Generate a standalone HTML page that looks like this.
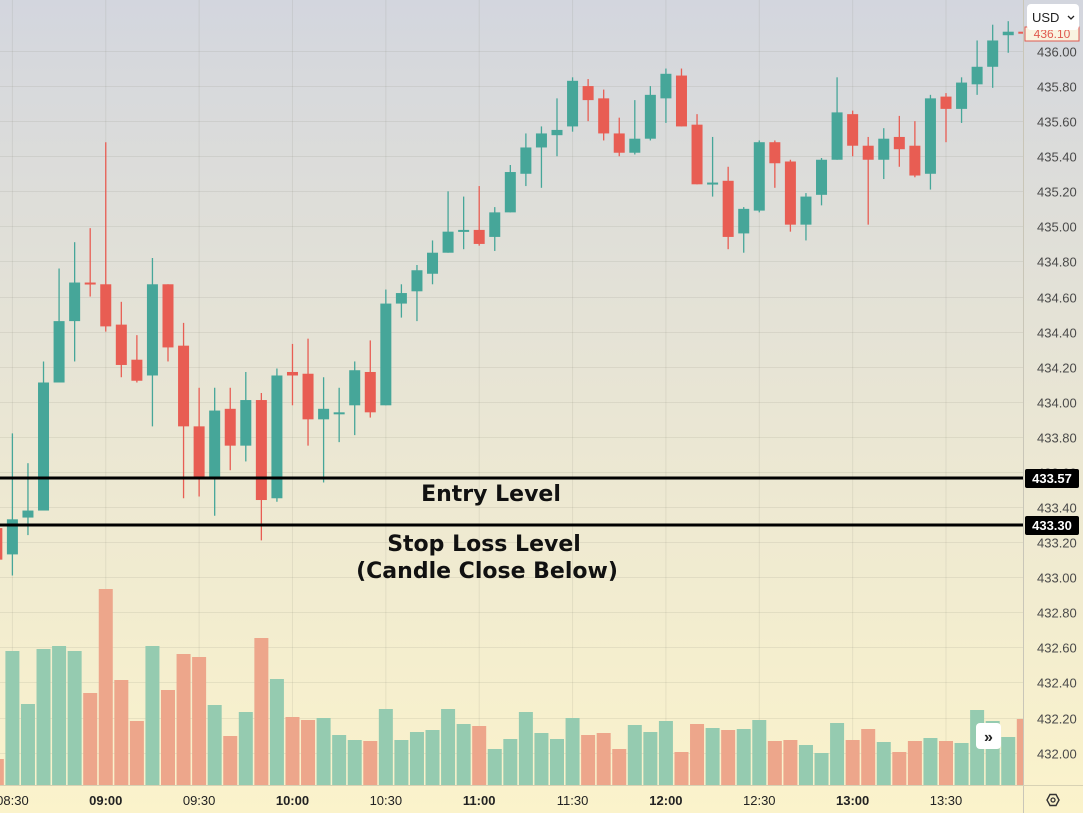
<!DOCTYPE html>
<html><head><meta charset="utf-8"><style>
html,body{margin:0;padding:0;width:1083px;height:813px;overflow:hidden}
svg{display:block}
text{font-family:"Liberation Sans","DejaVu Sans",sans-serif}
</style></head><body>
<svg id="chart" width="1083" height="813" viewBox="0 0 1083 813" xmlns="http://www.w3.org/2000/svg">
<defs>
<linearGradient id="bg" x1="0" y1="0" x2="0" y2="1">
<stop offset="0" stop-color="#d3d6de"/>
<stop offset="0.55" stop-color="#ebe7d3"/>
<stop offset="1" stop-color="#fbf3cb"/>
</linearGradient>
<clipPath id="plotclip"><rect x="0" y="0" width="1023" height="785"/></clipPath>
</defs>
<rect x="0" y="0" width="1083" height="813" fill="url(#bg)"/>
<g id="grid"></g>
<g id="vol" clip-path="url(#plotclip)"></g>
<g id="candles" clip-path="url(#plotclip)"></g>
<line x1="1023.5" y1="0" x2="1023.5" y2="813" stroke="#c9c6b8" stroke-width="1"/>
<line x1="0" y1="785.5" x2="1083" y2="785.5" stroke="#d8d2b4" stroke-width="1"/>
<g id="yaxis"></g>
<g id="xaxis"></g>
<g>
<line x1="0" y1="478" x2="1023" y2="478" stroke="#000" stroke-width="3"/>
<rect x="1025" y="469" width="54" height="19" rx="2" fill="#000"/>
<text x="1052" y="483" font-size="13" font-weight="bold" fill="#fff" text-anchor="middle">433.57</text>
<text x="491" y="501" font-size="22" font-weight="bold" fill="#111" text-anchor="middle" style="font-family:'DejaVu Sans',sans-serif">Entry Level</text>
</g>
<g>
<line x1="0" y1="525" x2="1023" y2="525" stroke="#000" stroke-width="3"/>
<rect x="1025" y="516" width="54" height="19" rx="2" fill="#000"/>
<text x="1052" y="530" font-size="13" font-weight="bold" fill="#fff" text-anchor="middle">433.30</text>
<text x="484" y="551" font-size="22" font-weight="bold" fill="#111" text-anchor="middle" style="font-family:'DejaVu Sans',sans-serif">Stop Loss Level</text>
<text x="487" y="578" font-size="22" font-weight="bold" fill="#111" text-anchor="middle" style="font-family:'DejaVu Sans',sans-serif">(Candle Close Below)</text>
</g>
<rect x="1025" y="27" width="54" height="14" fill="#f9f3e0" stroke="#e05a50" stroke-width="1"/>
<text x="1052" y="38" font-size="12" fill="#e05a50" text-anchor="middle">436.10</text>
<g>
<rect x="1027" y="4" width="52" height="26" rx="4" fill="#fff"/>
<text x="1032" y="22" font-size="13" fill="#222">USD</text>
<path d="M1068 16 l3 3 l3 -3" fill="none" stroke="#222" stroke-width="1.3"/>
</g>
<g>
<rect x="976" y="723" width="25" height="26" rx="4" fill="#fff"/>
<text x="988.5" y="742" font-size="16" font-weight="bold" fill="#222" text-anchor="middle">»</text>
</g>
<g>
<polygon points="1047,800 1050,794.5 1056,794.5 1059,800 1056,805.5 1050,805.5" fill="none" stroke="#333" stroke-width="1.4"/>
<circle cx="1053" cy="800" r="2" fill="none" stroke="#333" stroke-width="1.3"/>
</g>
</svg>
<script>
// price data, 5-minute candles starting 08:25
const opens  = [433.28,433.13,433.34,433.38,434.11,434.46,434.68,434.67,434.44,434.24,434.15,434.67,434.32,433.86,433.56,433.96,433.75,434.01,433.45,434.17,434.16,433.90,433.94,433.98,434.17,433.98,434.56,434.63,434.73,434.85,434.97,434.98,434.94,435.08,435.30,435.45,435.52,435.57,435.80,435.73,435.53,435.42,435.50,435.73,435.86,435.58,435.25,435.26,434.96,435.09,435.48,435.37,435.01,435.18,435.38,435.64,435.46,435.38,435.51,435.46,435.30,435.74,435.67,435.81,435.91,436.09,436.11];
const closes = [433.10,433.33,433.38,434.11,434.46,434.68,434.67,434.43,434.21,434.12,434.67,434.31,433.86,433.56,433.95,433.75,434.01,433.44,434.15,434.15,433.90,433.96,433.94,434.18,433.94,434.56,434.62,434.75,434.85,434.97,434.98,434.90,435.08,435.31,435.45,435.53,435.55,435.83,435.72,435.53,435.42,435.50,435.75,435.87,435.57,435.24,435.25,434.94,435.10,435.48,435.36,435.01,435.17,435.38,435.65,435.46,435.38,435.50,435.44,435.29,435.73,435.67,435.82,435.91,436.06,436.11,436.10];
const highs  = [433.28,433.82,433.65,434.23,434.76,434.91,434.99,435.48,434.57,434.38,434.82,434.67,434.45,434.08,434.08,434.08,434.17,434.05,434.19,434.33,434.36,434.14,434.08,434.23,434.35,434.64,434.67,434.78,434.92,435.20,435.17,435.23,435.11,435.35,435.53,435.57,435.73,435.85,435.84,435.78,435.62,435.72,435.80,435.90,435.90,435.64,435.51,435.34,435.11,435.49,435.49,435.38,435.19,435.39,435.85,435.66,435.51,435.56,435.63,435.60,435.75,435.76,435.85,436.06,436.15,436.17,436.16];
const lows   = [433.07,433.01,433.24,433.38,434.11,434.23,434.60,434.40,434.14,434.11,433.86,434.23,433.45,433.46,433.35,433.61,433.66,433.21,433.43,433.98,433.75,433.54,433.77,433.81,433.91,433.98,434.48,434.46,434.67,434.85,434.87,434.89,434.86,435.08,435.23,435.22,435.40,435.54,435.60,435.49,435.40,435.41,435.49,435.59,435.57,435.24,435.17,434.87,434.85,435.08,435.22,434.97,434.92,435.12,435.38,435.40,435.01,435.27,435.34,435.28,435.21,435.48,435.59,435.75,435.79,435.99,435.94];
const volumes = [26,134,81,136,139,134,92,196,105,64,139,95,131,128,80,49,73,147,106,68,65,67,50,45,44,76,45,53,55,76,61,59,36,46,73,52,46,67,50,52,36,60,53,64,33,61,57,55,56,65,44,45,40,32,62,45,56,43,33,44,47,44,42,75,64,48,66];
const priceTicks = [436.00,435.80,435.60,435.40,435.20,435.00,434.80,434.60,434.40,434.20,434.00,433.80,433.60,433.40,433.20,433.00,432.80,432.60,432.40,432.20,432.00];
const timeLabels = ["08:30","09:00","09:30","10:00","10:30","11:00","11:30","12:00","12:30","13:00","13:30"];
const timeBold   = [false,true,false,true,false,true,false,true,false,true,false];

const NS="http://www.w3.org/2000/svg";
const X0=-3.16, DX=15.56;
function xScale(i){return X0+i*DX;}
function yScale(p){return 51+(436-p)*175.4;}
function vScale(v){return v*1.0;}
const VBASE=785;
function mk(tag,attrs,parent){const e=document.createElementNS(NS,tag);for(const k in attrs)e.setAttribute(k,attrs[k]);parent.appendChild(e);return e;}

const grid=document.getElementById('grid');
const yaxis=document.getElementById('yaxis');
priceTicks.forEach(function(p){
  const y=Math.round(yScale(p))+0.5;
  const gl=mk('line',{x1:0,x2:1023,y1:y,y2:y,stroke:'rgba(120,120,110,0.13)','stroke-width':1},grid);
  
  
  const t=mk('text',{x:1037,y:y+5,'font-size':13,fill:'#4a4a4a'},yaxis);
  
  
  t.textContent=p.toFixed(2);
});
const xaxis=document.getElementById('xaxis');
timeLabels.forEach(function(lbl,k){
  const x=xScale(1+6*k);
  const gl=mk('line',{x1:x,x2:x,y1:0,y2:785,stroke:'rgba(120,120,110,0.13)','stroke-width':1},grid);
  
  
  const t=mk('text',{x:x,y:805,'font-size':13,fill:'#222','text-anchor':'middle','font-weight':timeBold[k]?'bold':'normal'},xaxis);
  
  
  t.textContent=lbl;
});

const vol=document.getElementById('vol');
const cg=document.getElementById('candles');
for(let i=0;i<opens.length;i++){
  const up=closes[i]>=opens[i];
  const x=xScale(i);
  const h=vScale(volumes[i]);
  const vb=mk('rect',{x:x-7,y:VBASE-h,width:14,height:h,fill:up?'#95cbb0':'#eda68b'},vol);
  
  
  const col=up?'#46a699':'#e85d53';
  const wk=mk('line',{x1:x,x2:x,y1:yScale(highs[i]),y2:yScale(lows[i]),stroke:col,'stroke-width':1.3},cg);
  
  
  const yt=yScale(Math.max(opens[i],closes[i]));
  const yb=yScale(Math.min(opens[i],closes[i]));
  const bd=mk('rect',{x:x-5.5,y:yt,width:11,height:Math.max(2,yb-yt),fill:col},cg);
  
  
}
</script>
</body></html>
